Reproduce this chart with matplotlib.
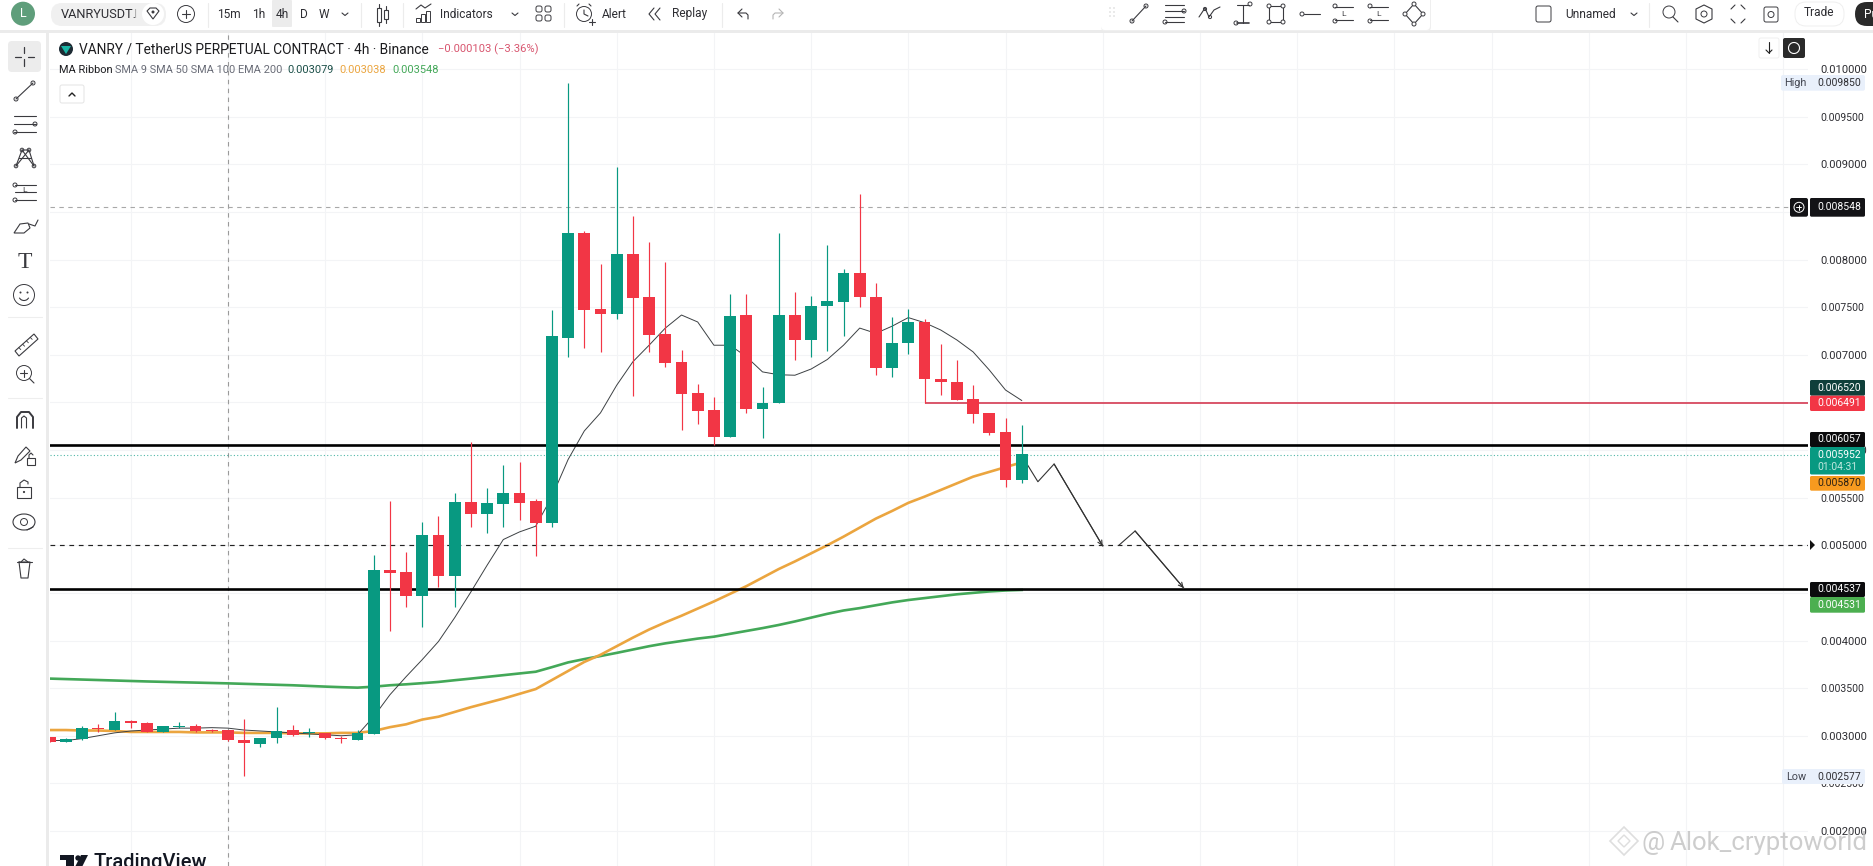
import matplotlib
matplotlib.use("Agg")
import matplotlib.pyplot as plt
from matplotlib.patches import Circle, FancyBboxPatch, Polygon, Rectangle, Arc
import numpy as np

plt.rcParams["font.family"] = ["Roboto", "DejaVu Sans"]

# candles
opens = [0.002984, 0.002938, 0.002963, 0.003078, 0.003064, 0.003158, 0.003137, 0.003040, 0.003090, 0.003099,
         0.003060, 0.003057, 0.002955, 0.002917, 0.002973, 0.003060, 0.003030, 0.003025, 0.002977, 0.002960,
         0.003021, 0.004737, 0.004719, 0.004464, 0.005108, 0.004677, 0.005457, 0.005331, 0.005433, 0.005549,
         0.005465, 0.005237, 0.007179, 0.008278, 0.007477, 0.007428, 0.008061, 0.007606, 0.007218, 0.006927,
         0.006595, 0.006417, 0.006136, 0.007417, 0.006430, 0.006490, 0.007420, 0.007158, 0.007508, 0.007557,
         0.007862, 0.007606, 0.006864, 0.007120, 0.007344, 0.006745, 0.006711, 0.006539, 0.006385, 0.006186,
         0.005685]
closes = [0.002938, 0.002966, 0.003078, 0.003068, 0.003155, 0.003134, 0.003043, 0.003099, 0.003102, 0.003053,
          0.003050, 0.002952, 0.002927, 0.002973, 0.003050, 0.003008, 0.003036, 0.002973, 0.002963, 0.003025,
          0.004737, 0.004709, 0.004464, 0.005108, 0.004677, 0.005457, 0.005331, 0.005447, 0.005549, 0.005444,
          0.005237, 0.007194, 0.008278, 0.007470, 0.007428, 0.008061, 0.007599, 0.007211, 0.006917, 0.006591,
          0.006410, 0.006136, 0.007407, 0.006430, 0.006490, 0.007417, 0.007158, 0.007512, 0.007561, 0.007862,
          0.007603, 0.006864, 0.007123, 0.007344, 0.006742, 0.006714, 0.006525, 0.006381, 0.006182, 0.005685,
          0.005955]
highs = [0.002990, 0.002975, 0.003103, 0.003123, 0.003246, 0.003165, 0.003140, 0.003105, 0.003144, 0.003120,
         0.003074, 0.003060, 0.003179, 0.002980, 0.003298, 0.003110, 0.003078, 0.003030, 0.003000, 0.003060,
         0.004898, 0.005465, 0.004932, 0.005241, 0.005310, 0.005545, 0.006087, 0.005598, 0.005843, 0.005874,
         0.005490, 0.007470, 0.009850, 0.008300, 0.007950, 0.008968, 0.008457, 0.008187, 0.007970, 0.007050,
         0.006690, 0.006553, 0.007638, 0.007638, 0.006665, 0.008282, 0.007662, 0.007617, 0.008152, 0.007900,
         0.008688, 0.007750, 0.007400, 0.007477, 0.007372, 0.007110, 0.006945, 0.006682, 0.006390, 0.006333,
         0.006262]
lows = [0.002930, 0.002930, 0.002955, 0.003043, 0.003064, 0.003078, 0.003043, 0.003035, 0.003078, 0.003043,
        0.003040, 0.002945, 0.002578, 0.002885, 0.002920, 0.003000, 0.002990, 0.002970, 0.002920, 0.002960,
        0.003021, 0.004103, 0.004355, 0.004138, 0.004565, 0.004348, 0.005195, 0.005125, 0.005188, 0.005265,
        0.004890, 0.005195, 0.006980, 0.007074, 0.007032, 0.007372, 0.006570, 0.007032, 0.006875, 0.006210,
        0.006273, 0.006053, 0.006136, 0.006385, 0.006122, 0.006490, 0.006945, 0.006980, 0.007040, 0.007200,
        0.007505, 0.006787, 0.006770, 0.007005, 0.006490, 0.006580, 0.006525, 0.006280, 0.006157, 0.005615,
        0.005650]

# ma ribbon
sma9 = [0.002950, 0.002950, 0.002970, 0.003000, 0.003030, 0.003050, 0.003060, 0.003070, 0.003080, 0.003080,
        0.003085, 0.003080, 0.003060, 0.003050, 0.003040, 0.003030, 0.003020, 0.003010, 0.003000, 0.003010,
        0.003200, 0.003430, 0.003620, 0.003800, 0.003990, 0.004240, 0.004510, 0.004790, 0.005060, 0.005140,
        0.005200, 0.005510, 0.005900, 0.006200, 0.006390, 0.006680, 0.006927, 0.007100, 0.007280, 0.007417,
        0.007344, 0.007100, 0.007100, 0.006980, 0.006820, 0.006790, 0.006785, 0.006850, 0.006950, 0.007100,
        0.007280, 0.007225, 0.007300, 0.007390, 0.007337, 0.007260, 0.007155, 0.007030, 0.006840, 0.006630,
        0.006520]
sma50 = [0.003060, 0.003060, 0.003055, 0.003055, 0.003050, 0.003040, 0.003040, 0.003040, 0.003040, 0.003035,
         0.003035, 0.003035, 0.003030, 0.003030, 0.003030, 0.003025, 0.003025, 0.003025, 0.003030, 0.003030,
         0.003050, 0.003090, 0.003120, 0.003170, 0.003200, 0.003250, 0.003300, 0.003345, 0.003390, 0.003440,
         0.003490, 0.003585, 0.003680, 0.003775, 0.003850, 0.003940, 0.004030, 0.004115, 0.004190, 0.004260,
         0.004335, 0.004410, 0.004490, 0.004570, 0.004660, 0.004750, 0.004830, 0.004915, 0.005000, 0.005090,
         0.005185, 0.005280, 0.005360, 0.005445, 0.005510, 0.005580, 0.005650, 0.005720, 0.005770, 0.005820,
         0.005870]
ema200 = [0.003600, 0.003595, 0.003590, 0.003585, 0.003580, 0.003575, 0.003570, 0.003566, 0.003562, 0.003558,
          0.003554, 0.003550, 0.003545, 0.003540, 0.003535, 0.003530, 0.003523, 0.003516, 0.003510, 0.003505,
          0.003515, 0.003530, 0.003540, 0.003552, 0.003565, 0.003583, 0.003600, 0.003618, 0.003636, 0.003654,
          0.003672, 0.003720, 0.003770, 0.003805, 0.003837, 0.003870, 0.003905, 0.003940, 0.003970, 0.003995,
          0.004020, 0.004040, 0.004070, 0.004100, 0.004130, 0.004163, 0.004200, 0.004240, 0.004280, 0.004315,
          0.004340, 0.004370, 0.004400, 0.004425, 0.004445, 0.004465, 0.004485, 0.004500, 0.004515, 0.004525,
          0.004531]

# drawings on the chart
support_high = 0.006057
support_low = 0.004537
target_mid = 0.005000
resistance = 0.006491
resistance_start_bar = 54
last_price = 0.005952
crosshair_price = 0.008548
crosshair_bar = 11
path1_bars = [60.3, 61.0, 62.0, 65.0]
path1_prices = [0.005860, 0.005667, 0.005853, 0.004992]
path2_bars = [66.0, 67.0, 70.0]
path2_prices = [0.005000, 0.005150, 0.004551]

price_ticks = [0.0100, 0.0095, 0.0090, 0.0085, 0.0080, 0.0075, 0.0070, 0.0065, 0.0060,
               0.0055, 0.0050, 0.0045, 0.0040, 0.0035, 0.0030, 0.0025, 0.0020]
grid_bars = list(range(5, 108, 6))

GREEN = "#089981"
RED = "#f23645"
INK = "#2e2e33"
ICON = "#3a3a3f"
W, H = 1874, 866

fig = plt.figure(figsize=(W / 100, H / 100), dpi=100, facecolor="white")

# chart pane, placed in pixels, scaled by bar index and price
left, right, top, bottom = 50, 1808, 33, 866
ax = fig.add_axes([left / W, 1 - bottom / H, (right - left) / W, (bottom - top) / H])
bar0_px, bar_step = 49.7, 16.2
ax.set_xlim((left - bar0_px) / bar_step, (right - bar0_px) / bar_step)
ax.set_ylim(0.010 - (bottom - 69) / 95250, 0.010 - (top - 69) / 95250)
ax.yaxis.tick_right()
ax.set_yticks(price_ticks)
ax.set_yticklabels([f"{p:.6f}" for p in price_ticks], color=INK)
# the half steps read a little narrower than the round ones in the screenshot
for p, tick_text in zip(price_ticks, ax.get_yticklabels()):
    tick_text.set_fontsize(7.5 if round(p * 1e4) % 10 else 8.1)
ax.set_xticks(grid_bars)
ax.tick_params(length=0, labelbottom=False, pad=9)
ax.grid(True, color="#f3f4f6", linewidth=0.8)
ax.set_axisbelow(True)
for spine in ax.spines.values():
    spine.set_visible(False)

ax.axvline(crosshair_bar, color="#9a9a9a", lw=0.8, dashes=(4, 4), zorder=1)
ax.axhline(crosshair_price, color="#a8a8a8", lw=0.8, dashes=(4, 4), zorder=1)
ax.axhline(last_price, color=GREEN, lw=0.8, dashes=(1, 2), alpha=0.7, zorder=1)

bars = np.arange(len(opens))
ax.plot(bars, ema200, color="#43a858", lw=1.9, zorder=2)
ax.plot(bars, sma50, color="#eba53f", lw=1.9, zorder=2)
ax.plot(bars, sma9, color="#3c4043", lw=0.7, zorder=2)

ax.axhline(support_high, color="black", lw=1.9, zorder=2)
ax.axhline(support_low, color="black", lw=1.9, zorder=2)
ax.axhline(target_mid, color="#222222", lw=0.85, dashes=(4, 4), zorder=2)
ax.hlines(resistance, resistance_start_bar, ax.get_xlim()[1], color="#d43a52", lw=1.2, zorder=2)

for p_bars, p_prices in [(path1_bars, path1_prices), (path2_bars, path2_prices)]:
    ax.plot(p_bars, p_prices, color="#333333", lw=0.8, zorder=3)
    ax.annotate("", xy=(p_bars[-1], p_prices[-1]), xytext=(p_bars[-2], p_prices[-2]),
                arrowprops=dict(arrowstyle="->", color="#333333", lw=0.8, shrinkA=0, shrinkB=0, mutation_scale=8),
                zorder=3)

colors = [GREEN if c >= o else RED for o, c in zip(opens, closes)]
ax.vlines(bars, lows, highs, colors=colors, lw=0.85, zorder=4)
ax.bar(bars, np.abs(np.array(closes) - np.array(opens)), bottom=np.minimum(opens, closes),
       width=0.72, color=colors, linewidth=0, zorder=5)

# everything around the chart is laid out in screen pixels
ui = fig.add_axes([0, 0, 1, 1], zorder=5)
ui.set_xlim(0, W)
ui.set_ylim(H, 0)
ui.axis("off")


def stroke(xs, ys, color=ICON, lw=0.8):
    ui.plot(xs, ys, color=color, lw=lw, solid_capstyle="round", zorder=9)


def ring(x, y, r=2.0, color=ICON, lw=0.7, fill="white"):
    ui.add_patch(Circle((x, y), r, fc=fill, ec=color, lw=lw, zorder=8))


def box(x0, y0, x1, y1, fc, ec="none", rad=2.0, lw=0.7, z=5):
    ui.add_patch(FancyBboxPatch((x0 + rad, y0 + rad), x1 - x0 - 2 * rad, y1 - y0 - 2 * rad,
                                boxstyle=f"round,pad={rad},rounding_size={rad}", fc=fc, ec=ec, lw=lw, zorder=z))


def label(x, y, s, size=8.6, color=INK, ha="center", weight="normal", z=10, **kw):
    ui.text(x, y, s, fontsize=size, color=color, ha=ha, va="center", fontweight=weight, zorder=z, **kw)


# frame
ui.add_patch(Rectangle((0, 0), W, 30, fc="white", ec="none", zorder=3))
ui.add_patch(Rectangle((0, 30), W, 3, fc="#ebebeb", ec="none", zorder=4))
ui.add_patch(Rectangle((0, 33), 46, H, fc="white", ec="none", zorder=3))
ui.add_patch(Rectangle((46, 33), 3.5, H, fc="#ebebeb", ec="none", zorder=4))

# top bar, left part
ui.add_patch(Circle((23, 13.7), 12, fc="#5f9e7b", ec="none", zorder=6))
label(23, 13.7, "L", 9, "white")
box(51, 3, 166, 26, "#f0f0f0", rad=11)
label(61, 14, "VANRYUSDT.", 9.2, ha="left")
label(134, 14, "I", 8.6, "#b0b0b0", ha="left")
ui.add_patch(Circle((153, 14), 11, fc="white", ec="none", zorder=6))
ui.add_patch(Polygon([(147, 11), (150, 8), (156, 8), (159, 11), (153, 19)], fc="white", ec=ICON, lw=0.8, zorder=7))
ui.add_patch(Circle((153, 12), 1.5, fc=ICON, ec="none", zorder=8))
ring(186, 14, 8.5, fill="none")
stroke([182, 190], [14, 14])
stroke([186, 186], [10, 18])
for sx in [208, 361, 403, 564, 722, 1649]:
    stroke([sx, sx], [3, 27], "#ececec", 0.8)
box(272, 0, 292, 27, "#ececec", rad=1)
for tx, t in zip([229, 259, 282, 304, 324], ["15m", "1h", "4h", "D", "W"]):
    label(tx, 14, t)
stroke([342, 345, 348], [13, 15.5, 13])

# candle style icon
ui.add_patch(Rectangle((377, 8), 4, 14, fc="white", ec=ICON, lw=0.8, zorder=7))
ui.add_patch(Rectangle((384, 10), 4, 9, fc="white", ec=ICON, lw=0.8, zorder=7))
stroke([379, 379], [4, 8])
stroke([379, 379], [22, 26])
stroke([386, 386], [6, 10])
stroke([386, 386], [19, 23])

# indicators icon
for bx, bh in [(416, 4), (421, 8), (426, 11)]:
    ui.add_patch(Rectangle((bx, 22 - bh), 4.5, bh, fc="white", ec=ICON, lw=0.7, zorder=7))
stroke([416, 421, 425, 431], [9, 5, 8, 4])
label(440, 14, "Indicators", ha="left")
stroke([512, 515, 518], [13, 15.5, 13])
for gx, gy in [(539, 9), (548, 9), (539, 18), (548, 18)]:
    box(gx - 3, gy - 3, gx + 3, gy + 3, "white", ICON, rad=2, z=7)

# alert and replay
ring(584, 14, 7.5, fill="none")
stroke([584, 584, 588], [10, 14, 16])
stroke([577, 579], [6, 4])
stroke([591, 589], [6, 4])
stroke([592, 592], [19, 25])
stroke([589, 595], [22, 22])
label(602, 14, "Alert", ha="left")
stroke([654, 649, 654], [8, 14, 20])
stroke([660, 655, 660], [8, 14, 20])
label(672, 14, "Replay", ha="left")
stroke([742, 738, 742], [9, 13, 17])
stroke([738, 746, 748, 748], [13, 13, 15, 19])
stroke([779, 783, 779], [9, 13, 17], "#b5b5b5")
stroke([783, 775, 773, 773], [13, 13, 15, 19], "#b5b5b5")

# floating drawing panel
box(1101, -6, 1431, 31, "#efefef", rad=4, z=4)
box(1101, -6, 1430, 30, "white", rad=4, z=5)
for dy in [8, 12, 16]:
    for dx in [1110, 1114]:
        ui.add_patch(Circle((dx, dy), 0.7, fc="#c9c9c9", ec="none", zorder=7))
stroke([1132, 1146], [21, 6])
ring(1132, 21)
ring(1146, 6)
for ly in [5, 11, 17, 22]:
    stroke([1165, 1184], [ly, ly])
ring(1184, 11)
ring(1165, 22)
stroke([1199, 1205, 1209, 1214, 1220], [17, 8, 17, 10, 7])
ring(1205, 9, 1.6)
ring(1210, 17, 1.6)
stroke([1237, 1249], [5, 5])
stroke([1237, 1249], [23, 23], lw=1.2)
stroke([1243, 1243], [5, 23])
ring(1250, 4)
ring(1236, 23)
ui.add_patch(Rectangle((1269, 6), 14, 16, fc="none", ec=ICON, lw=0.8, zorder=7))
for rx, ry in [(1269, 6), (1283, 6), (1269, 22), (1283, 22)]:
    ring(rx, ry)
stroke([1304, 1320], [14, 14])
ring(1302, 14)
for cx in [1344, 1379]:
    stroke([cx - 9, cx + 9], [7, 7])
    stroke([cx - 9, cx + 9], [20, 20])
    label(cx, 14, "L", 6, ICON)
    ring(cx - 9, 6)
    ring(cx - 9, 21)
ui.add_patch(Polygon([(1414, 4), (1423, 14), (1414, 24), (1405, 14)], fc="none", ec=ICON, lw=0.8, zorder=7))
for rx, ry in [(1414, 4), (1423, 14), (1414, 24), (1405, 14)]:
    ring(rx, ry)

# top bar, right part
box(1536, 6, 1551, 22, "white", ICON, rad=2, z=7)
label(1565, 14, "Unnamed", ha="left")
stroke([1631, 1634, 1637], [13, 15.5, 13])
ring(1669, 12, 6, fill="none")
stroke([1673, 1678], [17, 22])
ui.add_patch(Polygon([(1704, 5), (1712, 9), (1712, 19), (1704, 23), (1696, 19), (1696, 9)],
                     fc="none", ec=ICON, lw=0.8, zorder=7))
ring(1704, 14, 3)
for c0, c1 in [((1731, 9), (1735, 5)), ((1741, 5), (1745, 9)), ((1745, 19), (1741, 23)), ((1735, 23), (1731, 19))]:
    stroke([c0[0], c1[0]], [c0[1], c1[1]])
box(1764, 7, 1778, 22, "white", ICON, rad=2, z=7)
ring(1771, 14.5, 3)
box(1795, 2, 1844, 26, "white", "#efefef", rad=11, z=6)
label(1819, 13, "Trade")
box(1855, 2, 1900, 26, "#2a2a2a", rad=12, z=6)
label(1864, 14, "Pu", 8.6, "white", ha="left", clip_on=True)

# left toolbar
box(8, 41, 41, 72, "#ececec", rad=4)
stroke([24.5, 24.5], [47, 53], lw=0.9)
stroke([24.5, 24.5], [59, 66], lw=0.9)
stroke([15, 21], [56.5, 56.5], lw=0.9)
stroke([28, 34], [56.5, 56.5], lw=0.9)
stroke([16, 33], [99, 83])
ring(16, 99)
ring(33, 83)
for ly in [116, 124, 132]:
    stroke([14, 36], [ly, ly])
ring(35, 124)
ring(15, 132)
stroke([16, 22, 29, 34], [166, 150, 150, 166])
stroke([19, 31], [158, 158])
stroke([16, 29], [166, 150])
stroke([34, 22], [166, 150])
for px_, py_ in [(16, 166), (22, 150), (29, 150), (34, 166)]:
    ring(px_, py_, 1.8)
for ly in [185, 192, 200]:
    stroke([15, 36], [ly, ly])
label(25, 190.5, "L", 6, ICON)
ring(15, 185)
ring(15, 200)
ui.add_patch(Polygon([(14, 233), (20, 224), (28, 223), (30, 228), (24, 233)], fc="white", ec=ICON, lw=0.8, zorder=7))
stroke([29, 35, 38], [224, 226, 220])
label(24.5, 262, "T", 17, ICON, family="Liberation Serif")
ring(24, 295, 10.5)
ui.add_patch(Circle((20.5, 292.5), 1, fc=ICON, ec="none", zorder=9))
ui.add_patch(Circle((27.5, 292.5), 1, fc=ICON, ec="none", zorder=9))
ui.add_patch(Arc((24, 296), 10, 9, theta1=20, theta2=160, ec=ICON, lw=0.8, zorder=9))
ui.add_patch(Polygon([(15, 351), (34, 334), (38, 339), (19, 356)], fc="white", ec=ICON, lw=0.8, zorder=7))
for t in [0.2, 0.4, 0.6, 0.8]:
    stroke([15 + 19 * t, 17 + 19 * t], [351 - 17 * t, 353 - 17 * t], lw=0.6)
ring(24, 373, 7.5, fill="none")
stroke([24, 24], [369.5, 376.5])
stroke([20.5, 27.5], [373, 373])
stroke([29.5, 34], [378.5, 383])
stroke([17, 17, 21, 29, 33, 33], [428, 417, 412, 412, 417, 428], lw=1.4)
stroke([21.5, 21.5, 24, 26.5, 26.5], [428, 418, 416, 418, 428], lw=0.8)
ui.add_patch(Polygon([(15, 463), (18, 456), (26, 447), (30, 451), (21, 460)], fc="white", ec=ICON, lw=0.8, zorder=7))
ui.add_patch(Rectangle((27, 458), 8, 7, fc="white", ec=ICON, lw=0.8, zorder=8))
stroke([29, 29, 31, 33], [458, 455, 453, 455])
ui.add_patch(Rectangle((17, 487), 14, 11, fc="white", ec=ICON, lw=0.8, zorder=7))
stroke([20, 20, 24, 28, 28], [487, 483, 480, 482, 484])
ui.add_patch(Circle((24, 492), 1.1, fc=ICON, ec="none", zorder=8))
ui.add_patch(Arc((24, 522), 22, 16, ec=ICON, lw=0.8, zorder=7))
ring(24, 522, 3.5)
stroke([27, 33], [530, 527])
stroke([17, 32], [562, 562])
stroke([21, 24, 28], [562, 559, 562])
stroke([19, 21, 28, 30, 19], [562, 578, 578, 562, 562])
for sy in [317, 398, 548]:
    stroke([8, 42], [sy, sy], "#eeeeee", 0.8)

# legend
ui.add_patch(Circle((66, 49), 7, fc="#1d2b34", ec="none", zorder=6))
ui.add_patch(Polygon([(61, 46), (71, 46), (66, 54)], fc="#19b5a5", ec="none", zorder=7))
label(79, 49, "VANRY / TetherUS PERPETUAL CONTRACT · 4h · Binance", 9.9, "#1d1d20", ha="left")
label(438, 49, "−0.000103 (−3.36%)", 8.1, "#d8566f", ha="left")
label(59, 70, "MA Ribbon", 7.9, "#1d1d20", ha="left")
label(115, 70, "SMA 9 SMA 50 SMA 100 EMA 200", 7.9, "#6a6d78", ha="left")
label(287, 70, "0.003079", 7.9, "#1b4f48", ha="left")
label(339, 70, "0.003038", 7.9, "#eba53f", ha="left")
label(392, 70, "0.003548", 7.9, "#43a858", ha="left")
box(60, 85, 84, 103, "white", "#e4e4e4", rad=2)
stroke([69, 72, 75], [96, 93, 96], "#222222", 1.0)

# small buttons at the top of the price scale
box(1759, 38, 1779, 58, "white", "#efefef", rad=2)
stroke([1769, 1769], [42, 53], "#222222")
stroke([1766, 1769, 1772], [50, 53, 50], "#222222")
box(1783, 38, 1805, 58, "#2a2a2a", rad=2)
ui.add_patch(Arc((1794, 48), 11, 11, ec="white", lw=0.8, zorder=8))

# price tags, stacked the way the scale stacks them
tag_x0, tag_x1 = 1810, 1865
TAG_SIZE = 7.5


def tag(y0, y1, s, fc, fg="white"):
    box(tag_x0, y0, tag_x1, y1, fc, rad=1.5, z=6)
    label(1817, (y0 + y1) / 2, s, TAG_SIZE, fg, ha="left")


box(1781, 75, 1865, 90.7, "#e9f0fb", rad=2)
label(1784, 83, "High", 7.8, "#434651", ha="left")
label(1817, 83, "0.009850", TAG_SIZE, INK, ha="left")
box(1782, 769, 1865, 784, "#e9f0fb", rad=2)
label(1786, 776.5, "Low", 7.8, "#434651", ha="left")
label(1817, 776.5, "0.002577", TAG_SIZE, INK, ha="left")

box(1790, 198, 1808, 216.7, "#131316", rad=2)
ring(1799, 207.3, 5, "white", 0.7, "none")
stroke([1796.5, 1801.5], [207.3, 207.3], "white", 0.7)
stroke([1799, 1799], [204.8, 209.8], "white", 0.7)
tag(198, 216.7, "0.008548", "#131316")
tag(380, 395.7, "0.006520", "#0f3f3a")
tag(395.7, 411, "0.006491", RED)
tag(432, 447, "0.006057", "#0b0b0d")
box(tag_x0, 447, tag_x1, 474.5, GREEN, rad=1.5, z=6)
label(1817, 455, "0.005952", TAG_SIZE, "white", ha="left")
label(1817, 467.5, "01:04:31", TAG_SIZE, "#bfe8df", ha="left")
tag(476, 490.7, "0.005870", "#f79a1f", "#2a2014")
tag(582, 597, "0.004537", "#0b0b0d")
tag(597, 612.7, "0.004531", "#4caf50")
ui.add_patch(Polygon([(1810, 540), (1815, 545), (1810, 550)], fc="#111111", ec="none", zorder=8))

# tradingview logo, cut by the lower edge
ui.add_patch(Rectangle((60, 855), 14, 5, fc="#131722", ec="none", zorder=8))
ui.add_patch(Rectangle((66, 855), 8, 14, fc="#131722", ec="none", zorder=8))
ui.add_patch(Circle((78, 858), 2.7, fc="#131722", ec="none", zorder=8))
ui.add_patch(Polygon([(81, 855), (88, 855), (81, 869), (74, 869)], fc="#131722", ec="none", zorder=8))
ui.text(94, 868, "TradingView", fontsize=14.5, color="#131722", ha="left", va="baseline", fontweight="medium", zorder=8)

# watermark
wm = "#bdbdbd"
ui.add_patch(Polygon([(1624, 827), (1638, 841), (1624, 855), (1610, 841)], fc="none", ec="#dedede", lw=1.2, zorder=8))
ui.add_patch(Polygon([(1624, 835), (1630, 841), (1624, 847), (1618, 841)], fc="none", ec="#dedede", lw=1.0, zorder=8))
ui.text(1642, 850, "@", fontsize=18.5, color=wm, ha="left", va="baseline", alpha=0.75, zorder=8)
ui.text(1670, 850, "Alok_cryptoworld", fontsize=18.5, color=wm, ha="left", va="baseline", alpha=0.75, zorder=8)

fig.savefig("out.png", dpi=100)
